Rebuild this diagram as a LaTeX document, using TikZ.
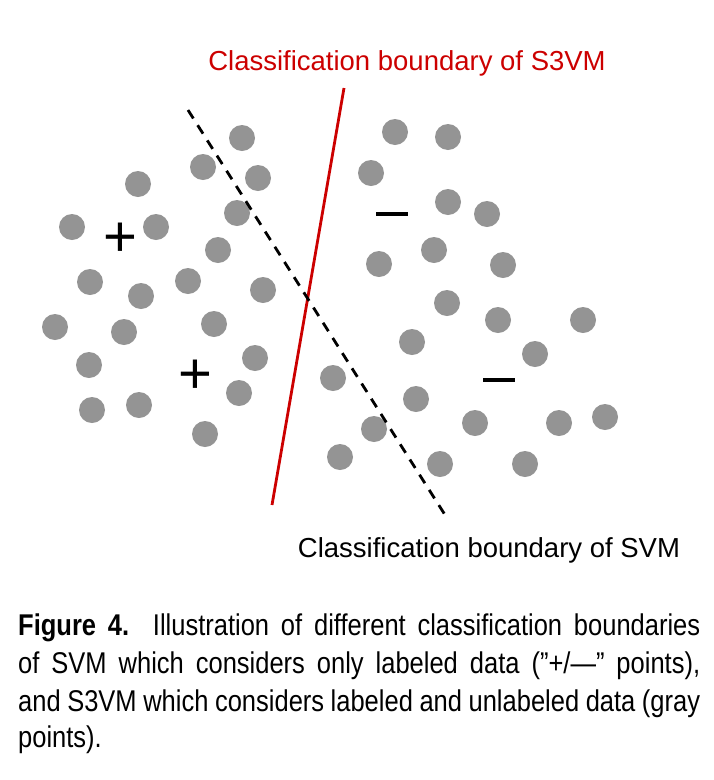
\documentclass[tikz,border=0pt]{standalone}
\usepackage{fontspec}
\setmainfont{Liberation Sans}
\newfontfamily\capfont[FakeStretch=0.85]{Liberation Sans}
\begin{document}
\begin{tikzpicture}[x=1pt,y=-1pt,
  dot/.style={circle,fill=black!42,minimum size=26pt,inner sep=0pt},
  sign/.style={font=\fontsize{58}{58}\selectfont,inner sep=0pt},
  lbl/.style={font=\fontsize{27.5}{27.5}\selectfont},
  capl/.style={anchor=west,inner sep=0pt,font=\capfont\fontsize{30}{30}\selectfont}]
\useasboundingbox (0,0) rectangle (714,780);
\foreach \x/\y [count=\i] in {242/138,203/167,258/178,138/184,72/227,156/227,237/213,218/250,90/282,141/296,188/281,263/290,55/327,124/332,214/324,89/365,255/358,239/393,92/410,139/405,205/434,395/132,448/137,371/173,448/202,487/214,379/264,434/250,503/265,447/303,498/320,583/320,412/342,535/354,333/378,416/399,374/429,475/423,559/423,605/417,340/457,440/464,525/464}
  \node[dot] (d\i) at (\x,\y) {};
\node[sign] (p1) at (120,240) {+};
\node[sign] (p2) at (195,377) {+};
\node[inner sep=0pt] (m1) at (392,214) {\rule{32pt}{3.5pt}};
\node[inner sep=0pt] (m2) at (499,380) {\rule{32pt}{3.5pt}};
\coordinate (r1) at (344,88); \coordinate (r2) at (272,505);
\coordinate (s1) at (188,110); \coordinate (s2) at (447,518);
\draw[red!80!black,line width=2.8pt] (r1) -- (r2);
\draw[black,line width=2.8pt,dash pattern=on 10pt off 8pt] (s1) -- (s2);
\node[lbl,text=red!80!black] (tl) at (407,63) {Classification boundary of S3VM};
\node[lbl] (bl) at (489,550) {Classification boundary of SVM};
\node[capl] (c1) at (18,628) {\makebox[682pt][s]{\textbf{Figure 4.} Illustration of different classification boundaries}};
\node[capl] (c2) at (18,666) {\makebox[682pt][s]{of SVM which considers only labeled data (”+/—” points),}};
\node[capl] (c3) at (18,704) {\makebox[682pt][s]{and S3VM which considers labeled and unlabeled data (gray}};
\node[capl] (c4) at (18,740) {points).};
\end{tikzpicture}
\end{document}
